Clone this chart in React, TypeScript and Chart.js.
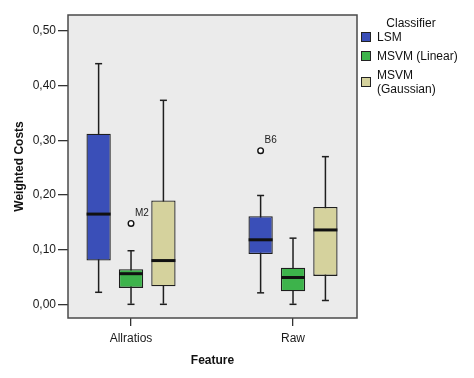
import React, { useEffect, useRef } from 'react';
import { Chart, registerables } from 'chart.js';

Chart.register(...registerables);

// Feature groups on the x axis and the three classifiers within each group
const features = ['Allratios', 'Raw'];
const classifiers = ['LSM', 'MSVM (Linear)', 'MSVM (Gaussian)'];
const classifierColors = ['#3a4fb8', '#3db34b', '#d5d29d'];

// Box-plot statistics, one row per classifier, one value per feature
const lowWhisker = [
  [0.022, 0.021],
  [0.0, 0.0],
  [0.0, 0.007],
];
const lowerQuartile = [
  [0.08, 0.092],
  [0.03, 0.024],
  [0.033, 0.052],
];
const medians = [
  [0.165, 0.118],
  [0.056, 0.049],
  [0.08, 0.136],
];
const upperQuartile = [
  [0.312, 0.161],
  [0.064, 0.067],
  [0.19, 0.178],
];
const highWhisker = [
  [0.44, 0.199],
  [0.098, 0.121],
  [0.373, 0.27],
];

// Outlying cases
const outlierFeature = [0, 1];
const outlierClassifier = [1, 0];
const outlierValue = [0.148, 0.281];
const outlierLabel = ['M2', 'B6'];

const yTicks = [0, 0.1, 0.2, 0.3, 0.4, 0.5];

const FONT = '"Liberation Sans", Arial, Helvetica, sans-serif';
const GROUP_STEP = 0.2;
const xPos = (f: number, c: number) => f + (c - 1) * GROUP_STEP;

const frame = {
  id: 'frame',
  beforeDraw(chart: any) {
    const { ctx, chartArea: a } = chart;
    ctx.save();
    ctx.fillStyle = '#ebebeb';
    ctx.fillRect(a.left, a.top, a.right - a.left, a.bottom - a.top);
    ctx.restore();
  },
  afterDraw(chart: any) {
    const { ctx, chartArea: a } = chart;
    ctx.save();
    ctx.strokeStyle = '#4a4a4a';
    ctx.lineWidth = 1.5;
    ctx.strokeRect(a.left, a.top, a.right - a.left, a.bottom - a.top);
    ctx.restore();
  },
};

const outlierNames = {
  id: 'outlierNames',
  afterDatasetsDraw(chart: any) {
    const idx = chart.data.datasets.findIndex((d: any) => d.label === 'outliers');
    if (idx < 0) return;
    const meta = chart.getDatasetMeta(idx);
    const { ctx } = chart;
    ctx.save();
    ctx.font = `10px ${FONT}`;
    ctx.fillStyle = '#222';
    ctx.textAlign = 'left';
    ctx.textBaseline = 'middle';
    meta.data.forEach((pt: any, i: number) => {
      ctx.fillText(outlierLabel[i], pt.x + 4, pt.y - 10);
    });
    ctx.restore();
  },
};

export default function App() {
  const canvasRef = useRef<HTMLCanvasElement | null>(null);

  useEffect(() => {
    const canvas = canvasRef.current;
    if (!canvas) return;

    const cells: { f: number; c: number }[] = [];
    classifiers.forEach((_, c) => features.forEach((__, f) => cells.push({ f, c })));

    const boxSets = classifiers.map((name, c) => ({
      type: 'bar' as const,
      label: name,
      data: features.map((_, f) => ({ x: xPos(f, c), y: [lowerQuartile[c][f], upperQuartile[c][f]] })),
      backgroundColor: classifierColors[c],
      borderColor: '#1e1e1e',
      borderWidth: 1.3,
      borderSkipped: false,
      grouped: false,
      barPercentage: 0.75,
      categoryPercentage: 1,
      order: 2,
    }));

    const chart = new Chart(canvas, {
      type: 'bar',
      data: {
        datasets: [
          {
            type: 'scatter',
            label: 'medians',
            data: cells.map(({ f, c }) => ({ x: xPos(f, c), y: medians[c][f] })),
            pointStyle: 'line',
            pointRadius: 12,
            borderWidth: 3,
            borderColor: '#111',
            order: 0,
          },
          {
            type: 'scatter',
            label: 'outliers',
            data: outlierValue.map((v, i) => ({ x: xPos(outlierFeature[i], outlierClassifier[i]), y: v })),
            pointStyle: 'circle',
            pointRadius: 2.8,
            borderWidth: 1.4,
            borderColor: '#111',
            backgroundColor: '#ffffff',
            order: 0,
          },
          {
            type: 'scatter',
            label: 'caps',
            data: [
              ...cells.map(({ f, c }) => ({ x: xPos(f, c), y: lowWhisker[c][f] })),
              ...cells.map(({ f, c }) => ({ x: xPos(f, c), y: highWhisker[c][f] })),
            ],
            pointStyle: 'line',
            pointRadius: 3.5,
            borderWidth: 1.5,
            borderColor: '#1e1e1e',
            order: 1,
          },
          ...boxSets,
          {
            type: 'bar',
            label: 'whiskers',
            data: cells.map(({ f, c }) => ({ x: xPos(f, c), y: [lowWhisker[c][f], highWhisker[c][f]] })),
            backgroundColor: '#1e1e1e',
            borderWidth: 0,
            grouped: false,
            barPercentage: 0.75,
            categoryPercentage: 1,
            maxBarThickness: 1.5,
            order: 3,
          },
        ] as any,
      },
      options: {
        responsive: false,
        animation: false,
        events: [],
        layout: { padding: { left: 0, right: 117, top: 8, bottom: 0 } },
        plugins: {
          legend: { display: false },
          tooltip: { enabled: false },
          title: { display: false },
        },
        scales: {
          x: {
            type: 'linear',
            min: -0.389,
            max: 1.395,
            offset: false,
            afterBuildTicks: (s: any) => {
              s.ticks = features.map((_, i) => ({ value: i }));
            },
            afterFit: (s: any) => {
              s.height = 60;
            },
            ticks: {
              callback: (v: any) => features[Number(v)] ?? '',
              color: '#1a1a1a',
              font: { family: FONT, size: 12 },
              padding: 5.5,
              maxRotation: 0,
              autoSkip: false,
            },
            grid: {
              drawOnChartArea: false,
              drawTicks: true,
              tickLength: 8,
              color: '#333',
              lineWidth: 1.3,
              offset: false,
            },
            border: { display: false },
            title: {
              display: true,
              text: 'Feature',
              color: '#111',
              font: { family: FONT, size: 12, weight: 'bold' },
              padding: { top: 0, bottom: 10.5 },
            },
          },
          y: {
            type: 'linear',
            min: -0.025,
            max: 0.529,
            afterBuildTicks: (s: any) => {
              s.ticks = yTicks.map((v) => ({ value: v }));
            },
            afterFit: (s: any) => {
              s.width = 68;
            },
            ticks: {
              callback: (v: any) => Number(v).toFixed(2).replace('.', ','),
              color: '#1a1a1a',
              font: { family: FONT, size: 12 },
              padding: 2,
            },
            grid: {
              drawOnChartArea: false,
              drawTicks: true,
              tickLength: 10,
              color: '#333',
              lineWidth: 1.3,
            },
            border: { display: false },
            title: {
              display: true,
              text: 'Weighted Costs',
              color: '#111',
              font: { family: FONT, size: 12, weight: 'bold' },
              padding: { top: 12, bottom: 0 },
            },
          },
        },
      },
      plugins: [frame, outlierNames],
    });

    return () => chart.destroy();
  }, []);

  const legendTop = [30, 48.5, 68];
  const boxTop = [32, 51, 77];
  const legendLines = [['LSM'], ['MSVM (Linear)'], ['MSVM', '(Gaussian)']];

  return (
    <div
      style={{
        position: 'fixed',
        left: 0,
        top: 0,
        width: 474,
        height: 378,
        background: '#ffffff',
        fontFamily: FONT,
        color: '#111',
        overflow: 'hidden',
      }}
    >
      <canvas ref={canvasRef} width={474} height={378} style={{ display: 'block' }} />
      <div
        style={{
          position: 'absolute',
          left: 361,
          top: 15,
          width: 100,
          textAlign: 'center',
          fontSize: 12,
          lineHeight: '16px',
        }}
      >
        Classifier
      </div>
      {classifiers.map((name, c) => (
        <React.Fragment key={name}>
          <div
            style={{
              position: 'absolute',
              left: 361,
              top: boxTop[c],
              width: 10,
              height: 10,
              boxSizing: 'border-box',
              border: '1px solid #222',
              background: classifierColors[c],
            }}
          />
          <div
            style={{
              position: 'absolute',
              left: 377,
              top: legendTop[c],
              fontSize: 12,
              lineHeight: '14px',
              whiteSpace: 'nowrap',
            }}
          >
            {legendLines[c].map((line) => (
              <div key={line}>{line}</div>
            ))}
          </div>
        </React.Fragment>
      ))}
    </div>
  );
}
